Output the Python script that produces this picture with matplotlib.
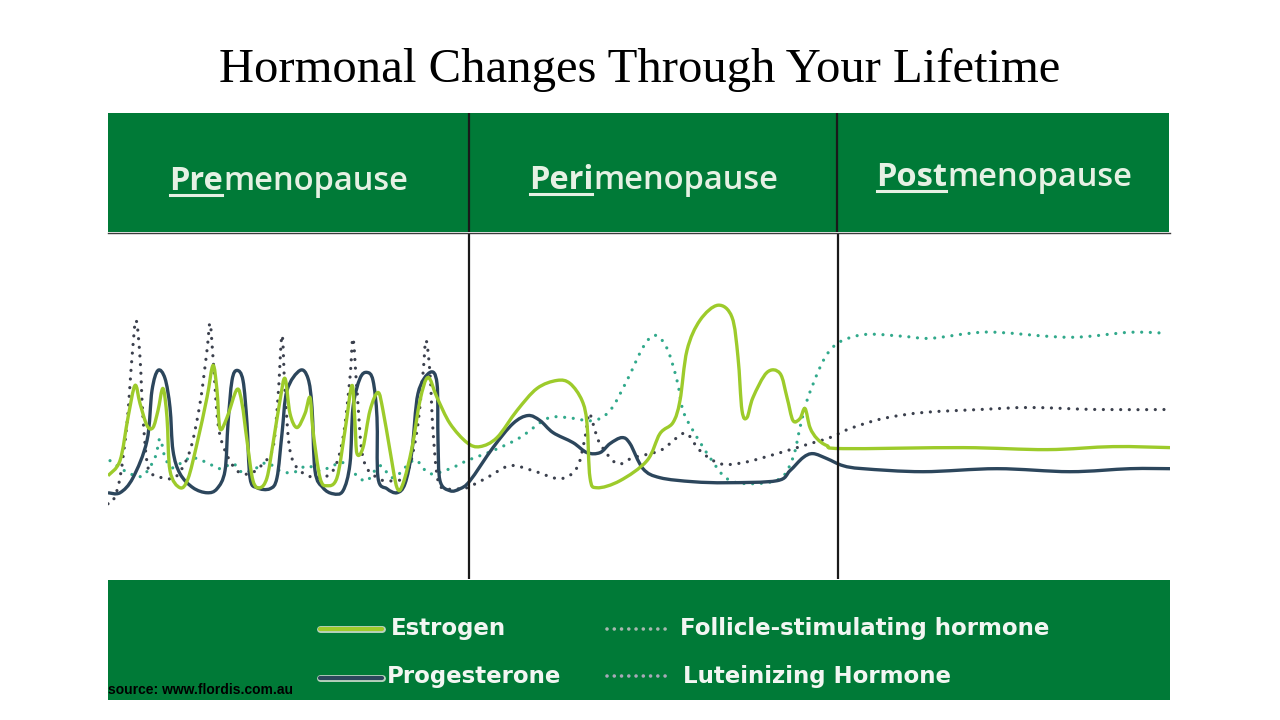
import numpy as np
import matplotlib
matplotlib.use("Agg")
import matplotlib.pyplot as plt
import matplotlib.patheffects as pe
from matplotlib.path import Path
from matplotlib.patches import PathPatch

# timeline position (0 = start of premenopause) and relative hormone level
estrogen_x = [0, 12, 20, 27, 32, 39, 45, 50, 55, 59, 62, 72, 80, 89, 99, 105, 109, 112, 119, 129,
              134, 139, 145, 152, 159, 165, 172, 177, 182, 189, 197, 202, 205, 212, 219, 229, 237, 244, 247, 249,
              255, 262, 270, 275, 282, 289, 295, 304, 312, 320, 329, 342, 359, 372, 389, 409, 429, 449, 462, 474,
              479, 482, 489, 512, 539, 552, 565, 572, 579, 592, 610, 624, 630, 634, 639, 645, 659, 672, 679, 685,
              692, 697, 702, 709, 719, 735, 855, 939, 1005, 1062]
estrogen_y = [103, 118, 161, 193, 175, 153, 151, 168, 190, 161, 108, 91, 100, 135, 181, 213, 188, 150, 161, 189,
              175, 138, 98, 91, 101, 135, 178, 200, 165, 151, 165, 181, 148, 101, 93, 101, 148, 193, 155, 125,
              131, 168, 186, 168, 128, 91, 95, 131, 178, 201, 181, 155, 136, 132, 141, 168, 190, 198, 195, 178,
              155, 101, 91, 98, 118, 145, 156, 178, 228, 258, 273, 261, 221, 168, 161, 181, 206, 205, 181, 158,
              160, 170, 151, 140, 133, 130, 131, 129, 132, 131]

progesterone_x = [0, 12, 25, 39, 44, 50, 57, 62, 65, 72, 85, 99, 109, 117, 120, 124, 129, 135, 139, 142,
                  149, 162, 169, 174, 179, 192, 200, 204, 207, 215, 225, 235, 242, 245, 252, 259, 265, 269, 270, 279,
                  289, 297, 304, 310, 322, 329, 330, 332, 342, 352, 362, 385, 405, 420, 432, 445, 465, 479, 492, 502,
                  514, 522, 535, 552, 585, 619, 669, 682, 695, 705, 719, 735, 755, 815, 889, 962, 1022, 1062]
progesterone_y = [86, 86, 101, 138, 188, 208, 200, 171, 128, 105, 91, 86, 90, 108, 155, 198, 208, 198, 155, 101,
                  91, 90, 101, 145, 188, 208, 200, 171, 108, 91, 85, 88, 115, 171, 200, 206, 198, 161, 101, 90,
                  86, 95, 128, 185, 206, 195, 138, 98, 88, 90, 98, 131, 155, 163, 158, 146, 136, 126, 126, 135,
                  141, 135, 110, 101, 97, 96, 98, 108, 121, 125, 120, 113, 110, 107, 110, 107, 110, 110]

fsh_x = [2, 12, 22, 35, 47, 52, 57, 64, 72, 84, 99, 112, 125, 135, 149, 159, 172, 185, 199, 212,
         225, 235, 249, 259, 272, 285, 302, 309, 322, 342, 359, 385, 412, 439, 459, 485, 502, 519, 535, 547,
         559, 569, 575, 585, 602, 619, 642, 672, 685, 692, 699, 712, 722, 735, 759, 795, 822, 862, 889, 962,
         1022, 1059]
fsh_y = [118, 111, 105, 103, 121, 140, 121, 111, 115, 121, 116, 110, 115, 106, 111, 116, 108, 106, 113, 108,
         113, 116, 103, 98, 113, 101, 116, 118, 105, 110, 118, 128, 141, 160, 161, 158, 168, 198, 231, 243,
         230, 198, 168, 148, 121, 100, 95, 100, 121, 151, 178, 211, 228, 238, 244, 242, 240, 245, 246, 241,
         246, 245]

lh_x = [0, 5, 12, 19, 24, 28, 32, 35, 40, 49, 59, 69, 82, 92, 99, 102, 105, 110, 117, 129,
        142, 155, 165, 170, 174, 177, 182, 192, 209, 225, 235, 242, 245, 249, 255, 269, 285, 299, 309, 315,
        318, 322, 325, 330, 339, 352, 359, 379, 402, 425, 452, 469, 477, 481, 485, 492, 509, 525, 552, 569,
        579, 592, 612, 635, 669, 702, 722, 742, 775, 815, 872, 922, 989, 1059]
lh_y = [75, 78, 101, 155, 221, 258, 221, 161, 111, 103, 100, 103, 128, 175, 228, 255, 221, 155, 128, 108,
        105, 115, 131, 181, 243, 188, 128, 108, 101, 108, 141, 201, 240, 188, 121, 101, 98, 105, 148, 205,
        238, 205, 148, 98, 90, 90, 91, 101, 113, 108, 100, 111, 141, 165, 155, 135, 115, 121, 128, 141,
        145, 128, 115, 116, 125, 135, 141, 150, 160, 166, 169, 171, 169, 169]

stage_edges = [0, 361, 730, 1062]
stage_prefix = ["Pre", "Peri", "Post"]
stage_rest = ["menopause", "menopause", "menopause"]
legend_labels = ["Estrogen", "Progesterone", "Follicle-stimulating hormone", "Luteinizing Hormone"]

GREEN = "#007A37"
C_EST = "#9DCB2B"
C_PRO = "#2C465C"
C_FSH = "#31A98B"
C_LH = "#3B404D"
PALE = "#E6F1E4"

W, H = 1280, 720
fig = plt.figure(figsize=(12.8, 7.2), dpi=100, facecolor="white")


def rect(x0, y0, x1, y1):
    return [x0 / W, 1 - y1 / H, (x1 - x0) / W, (y1 - y0) / H]


def clean(ax):
    ax.set_xticks([])
    ax.set_yticks([])
    for s in ax.spines.values():
        s.set_visible(False)


def smooth_path(xs, ys):
    # catmull-rom style bezier through the read points
    p = np.column_stack([xs, ys]).astype(float)
    verts = [p[0]]
    codes = [Path.MOVETO]
    n = len(p)
    for i in range(n - 1):
        a = p[i - 1] if i > 0 else p[i]
        b = p[i]
        c = p[i + 1]
        d = p[i + 2] if i + 2 < n else p[i + 1]
        verts += [b + (c - a) / 6, c - (d - b) / 6, c]
        codes += [Path.CURVE4] * 3
    return Path(verts, codes)


def curve(ax, xs, ys, **kw):
    ax.add_patch(PathPatch(smooth_path(xs, ys), fill=False, **kw))


# title
fig.text(0.5, 1 - 70 / H, "Hormonal Changes Through Your Lifetime", ha="center", va="center",
         fontsize=35, family="Liberation Serif", color="black")

# header band
hax = fig.add_axes(rect(108, 113, 1169, 232))
hax.set_facecolor(GREEN)
clean(hax)
hax.set_xlim(0, 1062)
hax.set_ylim(0, 1)
for e in stage_edges[1:-1]:
    hax.axvline(e, color="#1a1a1a", lw=1.6)

# main plot
ax = fig.add_axes(rect(108, 233, 1170, 579))
clean(ax)
ax.spines["top"].set_visible(True)
ax.spines["top"].set_color("#3a3a3a")
ax.spines["top"].set_linewidth(1.0)
ax.set_xlim(0, 1062)
ax.set_ylim(0, 345)
for e in stage_edges[1:-1]:
    ax.axvline(e, color="#1a1a1a", lw=1.6)

dots = dict(linestyle=(0, (0.01, 2.7)), capstyle="round", lw=2.3)
curve(ax, fsh_x, fsh_y, edgecolor=C_FSH, **dots)
curve(ax, lh_x, lh_y, edgecolor=C_LH, **dots)
curve(ax, progesterone_x, progesterone_y, edgecolor=C_PRO, lw=2.4, joinstyle="round")
curve(ax, estrogen_x, estrogen_y, edgecolor=C_EST, lw=2.4, joinstyle="round")

# stage labels with bold underlined prefix
renderer = fig.canvas.get_renderer()
base_y = [190, 189, 186]
for i in range(3):
    cx = 108 + (stage_edges[i] + stage_edges[i + 1]) / 2
    y = 1 - base_y[i] / H
    t1 = fig.text(0, y, stage_prefix[i], fontsize=23.5, family="Open Sans", weight="bold",
                  color=PALE, va="baseline")
    t2 = fig.text(0, y, stage_rest[i], fontsize=23.5, family="Open Sans", weight="semibold",
                  color=PALE, va="baseline")
    w1 = t1.get_window_extent(renderer).width
    w2 = t2.get_window_extent(renderer).width
    x0 = cx - (w1 + w2) / 2
    t1.set_x(x0 / W)
    t2.set_x((x0 + w1) / W)
    uy = 1 - (base_y[i] + 5) / H
    fig.add_artist(plt.Line2D([(x0 + 1) / W, (x0 + w1 - 1) / W], [uy, uy], color=PALE, lw=2.2))

# legend band
lax = fig.add_axes(rect(108, 580, 1170, 700))
lax.set_facecolor(GREEN)
clean(lax)
lax.set_xlim(0, 1)
lax.set_ylim(0, 1)

halo = [pe.Stroke(linewidth=5, foreground="#b9d3bf"), pe.Normal()]
lax.plot([0.1996, 0.258], [0.592, 0.592], color=C_EST, lw=3, path_effects=halo, solid_capstyle="round")
lax.plot([0.1996, 0.258], [0.183, 0.183], color=C_PRO, lw=3, path_effects=halo, solid_capstyle="round")
lax.plot([0.47, 0.529], [0.592, 0.592], color="#a8b8b0", linestyle=(0, (0.01, 2.0)),
         dash_capstyle="round", lw=2.6)
lax.plot([0.47, 0.529], [0.2, 0.2], color="#a8a8b8", linestyle=(0, (0.01, 2.0)),
         dash_capstyle="round", lw=2.6)

leg_pos = [(0.2665, 0.592), (0.2627, 0.2), (0.5386, 0.592), (0.5414, 0.2)]
for lab, (lx, ly) in zip(legend_labels, leg_pos):
    lax.text(lx, ly, lab, fontsize=16.5, family="DejaVu Sans", weight="bold", color="#F2F6F2",
             ha="left", va="center")

fig.text(108 / W, 1 - 690 / H, "source: www.flordis.com.au", fontsize=10, family="Liberation Sans",
         weight="bold", color="black", ha="left", va="center")

fig.savefig("out.png", dpi=100, facecolor="white")
